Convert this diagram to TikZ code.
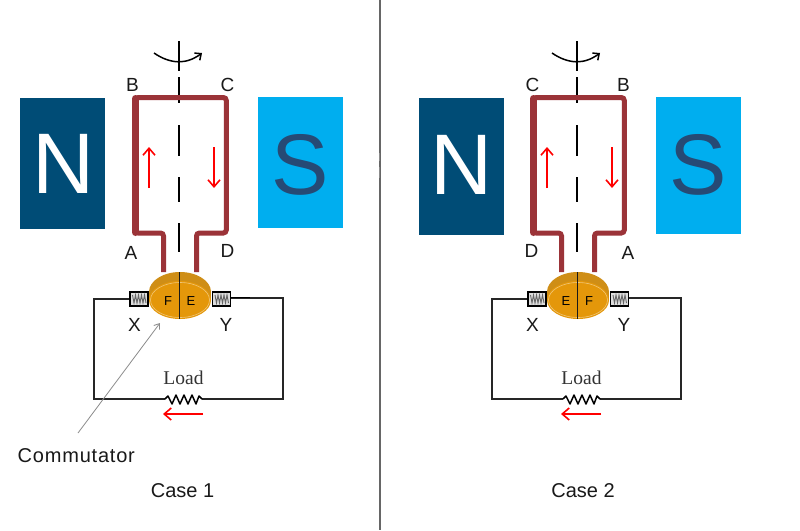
\documentclass[tikz,border=0pt]{standalone}
\usepackage{fontspec}
\setmainfont{Liberation Sans}
\newfontfamily\loadfont{Liberation Serif}
\usetikzlibrary{arrows.meta}
\definecolor{navy}{HTML}{004C76}
\definecolor{sky}{HTML}{00AEEF}
\definecolor{sglyph}{HTML}{264A75}
\definecolor{coil}{HTML}{9B3338}
\definecolor{orangeF}{HTML}{E4970A}
\definecolor{orangeS}{HTML}{CF8E16}
\definecolor{brushg}{HTML}{DDDDDD}
\tikzset{
  x=1pt,y=-1pt,
  lab/.style={font=\fontsize{19}{19}\selectfont,inner sep=0pt,text=black!90},
  caselab/.style={font=\fontsize{20}{20}\selectfont,inner sep=0pt,text=black!90},
  seg/.style={font=\fontsize{13}{13}\selectfont,inner sep=0pt},
  coilw/.style={draw=coil,line width=5pt,rounded corners=3pt},
  wire/.style={draw=black!85,line width=1.2pt},
  axis/.style={draw=black,line width=1.5pt},
  redarr/.style={draw=red,line width=1.6pt,-{Straight Barb[length=7pt,width=12pt,line width=1.6pt]}},
  brushbox/.style={draw=black,fill=brushg,line width=1.4pt,minimum width=18pt,minimum height=14pt,inner sep=0pt},
  mag/.style={minimum width=85pt,inner sep=0pt},
  glyph/.style={inner sep=0pt}
}
\newcommand{\casedraw}[3]{%
\begin{scope}[shift={(#1,0)}]
  % axis
  \draw[axis] (179,41) -- (179,71);
  \draw[axis] (179,77) -- (179,103);
  \draw[axis] (179,125) -- (179,156);
  \draw[axis] (179,177) -- (179,202);
  \draw[axis] (179,223) -- (179,252);
  % coil
  \coordinate (cl#1) at (163.5,272);
  \coordinate (cr#1) at (196.5,272);
  \draw[coilw] (cl#1) -- (163.5,233) -- (135.5,233) -- (135.5,97.5) -- (226.3,97.5) -- (226.3,233) -- (196.5,233) -- (cr#1);
  \draw[draw=coil,line width=7pt,line cap=round] (135.5,98.5) -- (135.5,232.5);
  % rotation arrow
  \coordinate (ra#1) at (154,53);
  \coordinate (rb#1) at (202,53);
  \draw[black,line width=1.5pt,-{Straight Barb[length=5pt,width=9pt]}] (ra#1) .. controls (170,64) and (186,65) .. (rb#1);
  % commutator
  \fill[orangeS] (180,292) ellipse[x radius=31,y radius=20];
  \fill[orangeS] (149,292) rectangle (211,300);
  \fill[orangeF] (180,300) ellipse[x radius=31,y radius=19];
  \draw[orangeF!55!white,line width=.6pt] (180,300) ellipse[x radius=29.5,y radius=17.5];
  \draw[black!90,line width=1.6pt] (179.5,272) -- (179.5,319);
  \node[seg] (fl#1) at (168,301) {#2};
  \node[seg] (fr#1) at (191,301) {#3};
  % brushes
  \node[brushbox] (bl#1) at (139,299) {};
  \node[brushbox] (br#1) at (221.5,299) {};
  \draw[black!60,line width=.9pt] (132.5,295) -- (134,303) -- (135.5,295) -- (137,303) -- (138.5,295) -- (140,303) -- (141.5,295) -- (143,303) -- (144.5,295) -- (146,303);
  \draw[black!60,line width=.9pt] (215,295) -- (216.5,303) -- (218,295) -- (219.5,303) -- (221,295) -- (222.5,303) -- (224,295) -- (225.5,303) -- (227,295) -- (228.5,303);
  % circuit
  \coordinate (rl#1) at (165,399);
  \coordinate (rr#1) at (202,399);
  \coordinate (wl#1) at (94,299);
  \coordinate (wr#1) at (283,298);
  \draw[wire] (bl#1.west) -- (wl#1) -- (94,399) -- (rl#1);
  \draw[wire] (br#1.east |- wr#1) -- (wr#1) -- (283,399) -- (rr#1);
  \draw[black,line width=1.5pt,line join=round] (rl#1) -- (168,396) -- (172,404) -- (176,395) -- (180,404) -- (184,395) -- (188,404) -- (192,395) -- (196,404) -- (199,396) -- (rr#1);
  \node[font=\loadfont\fontsize{19.5}{19.5}\selectfont,text=black!80,inner sep=0pt] (ld#1) at (183.5,378) {Load};
  \coordinate (rp#1) at (203,414);
  \coordinate (rq#1) at (163,414);
  \draw[redarr] (rp#1) -- (rq#1);
  % coil arrows
  \coordinate (ca#1) at (149,188); \coordinate (cb#1) at (149,147);
  \coordinate (cc#1) at (214,147); \coordinate (cd#1) at (214,188);
  \draw[redarr] (ca#1) -- (cb#1);
  \draw[redarr] (cc#1) -- (cd#1);
  % labels
  \node[lab] (xl#1) at (134.5,325) {X};
  \node[lab] (yl#1) at (226,325) {Y};
\end{scope}}
\begin{document}
\begin{tikzpicture}
\useasboundingbox (0,0) rectangle (800,530);
\fill[white] (0,0) rectangle (800,530);
\coordinate (dt) at (380,0);
\coordinate (db) at (380,530);
\draw[black!60,line width=1.3pt] (dt) -- (db);
\draw[black!45,line width=1pt] (379,153) -- (379,161);
\draw[black!45,line width=1pt] (379,167) -- (379,178);
% magnets
\node[mag,fill=navy,minimum height=131pt] (n1) at (62.5,163.5) {};
\node[mag,fill=sky,minimum height=131pt] (s1) at (300.5,162.5) {};
\node[mag,fill=navy,minimum height=137pt] (n2) at (461,166.5) {};
\node[mag,fill=sky,minimum height=137pt] (s2) at (698.5,165.5) {};
\node[glyph,text=white,font=\fontsize{86}{86}\selectfont] (gn1) at (63.5,163.5) {N};
\node[glyph,text=sglyph,font=\fontsize{86}{86}\selectfont] (gs1) at (300.5,165) {S};
\node[glyph,text=white,font=\fontsize{86}{86}\selectfont] (gn2) at (461.5,164.5) {N};
\node[glyph,text=sglyph,font=\fontsize{86}{86}\selectfont] (gs2) at (698.5,165) {S};
\casedraw{0}{F}{E}
\casedraw{398}{E}{F}
\coordinate (stub) at (250,297.5);
\draw[black,line width=1.6pt] (br0.east |- stub) -- (stub);
% case labels
\node[lab] (a1) at (131,253) {A};
\node[lab] (b1) at (132.5,84.5) {B};
\node[lab] (c1) at (227.5,84.5) {C};
\node[lab] (d1) at (227.5,250.5) {D};
\node[lab] (c2) at (532.5,85) {C};
\node[lab] (b2) at (623.5,85) {B};
\node[lab] (d2) at (531.5,250.5) {D};
\node[lab] (a2) at (628,253) {A};
\node[caselab] (cs1) at (182.5,491) {Case 1};
\node[caselab] (cs2) at (583,491) {Case 2};
% commutator label
\node[lab,anchor=west,font=\fontsize{20}{20}\selectfont\addfontfeature{LetterSpace=4}] (cm) at (17.5,456) {Commutator};
\coordinate (cmf) at (78,433);
\coordinate (cmt) at (160,323);
\draw[black!45,line width=.8pt,-{Straight Barb[length=5pt,width=7pt]}] (cmf) -- (cmt);
\end{tikzpicture}
\end{document}
